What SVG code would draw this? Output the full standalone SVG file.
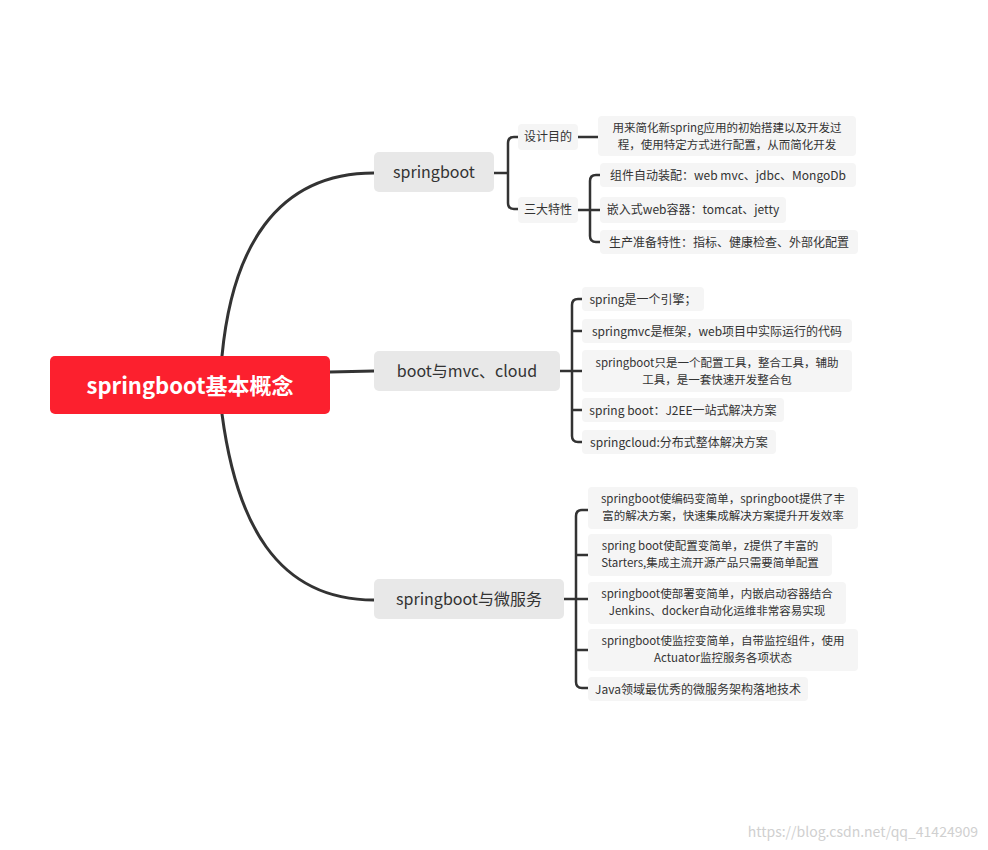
<svg xmlns="http://www.w3.org/2000/svg" width="988" height="850" viewBox="0 0 988 850">
<style>
text{font-family:"Noto Sans CJK SC","Noto Sans",sans-serif;fill:#333;text-anchor:middle}
.m rect{fill:#e8e8e8}
.m text{font-size:16px}
.l rect{fill:#f5f5f5}
.l text{font-size:12px}
.l text.s{font-size:11.5px}
.c path{fill:none;stroke:#333;stroke-width:3;stroke-linecap:round}
.c path.t{stroke-width:2.5}
</style>
<rect width="988" height="850" fill="#fff"/>
<g class="c">
<path d="M222,356 C232,250 275,173 374,173"/>
<path d="M330,372 L374,371"/>
<path d="M222,414 C236,520 275,600 374,600"/>
<path class="t" d="M494,173 H508 M518,137 H514 Q508,137 508,143 V203 Q508,209 514,209 H518"/>
<path class="t" d="M578,137 H598"/>
<path class="t" d="M578,210 H600 M600,175 H596 Q590,175 590,181 V236 Q590,242 596,242 H600"/>
<path class="t" d="M560,371 H582 M582,299 H578 Q572,299 572,305 V436 Q572,442 578,442 H582 M572,331 H582 M572,410 H582"/>
<path class="t" d="M564,599 H588 M588,510 H582 Q576,510 576,516 V682 Q576,688 582,688 H588 M576,555 H588 M576,650 H588"/>
</g>
<g id="root"><rect x="50" y="356" width="280" height="58" rx="5" fill="#fc202e"/><text x="190" y="394" style="font-size:22px;font-weight:bold;fill:#fff">springboot基本概念</text></g>
<g id="n1" class="m"><rect x="374" y="152" width="120" height="40" rx="5"/><text x="434" y="178">springboot</text></g>
<g id="n2" class="m"><rect x="374" y="351" width="186" height="40" rx="5"/><text x="467" y="377">boot与mvc、cloud</text></g>
<g id="n3" class="m"><rect x="374" y="579" width="190" height="40" rx="5"/><text x="469" y="605">springboot与微服务</text></g>
<g id="a1" class="l"><rect x="518" y="124" width="60" height="26" rx="4"/><text x="548" y="141">设计目的</text></g>
<g id="a2" class="l"><rect x="518" y="197" width="60" height="26" rx="4"/><text x="548" y="214">三大特性</text></g>
<g id="a1a" class="l"><rect x="598" y="116" width="258" height="40" rx="4"/><text class="s" x="727" y="132">用来简化新spring应用的初始搭建以及开发过</text><text class="s" x="727" y="149">程，使用特定方式进行配置，从而简化开发</text></g>
<g id="a2a" class="l"><rect x="600" y="163" width="256" height="24" rx="4"/><text x="728" y="180">组件自动装配：web mvc、jdbc、MongoDb</text></g>
<g id="a2b" class="l"><rect x="600" y="197" width="186" height="26" rx="4"/><text x="693" y="214">嵌入式web容器：tomcat、jetty</text></g>
<g id="a2c" class="l"><rect x="600" y="230" width="258" height="24" rx="4"/><text x="729" y="247">生产准备特性：指标、健康检查、外部化配置</text></g>
<g id="b1" class="l"><rect x="582" y="287" width="122" height="24" rx="4"/><text x="643" y="304">spring是一个引擎；</text></g>
<g id="b2" class="l"><rect x="582" y="319" width="270" height="24" rx="4"/><text x="717" y="336">springmvc是框架，web项目中实际运行的代码</text></g>
<g id="b3" class="l"><rect x="582" y="350" width="270" height="42" rx="4"/><text class="s" x="717" y="367">springboot只是一个配置工具，整合工具，辅助</text><text class="s" x="717" y="384">工具，是一套快速开发整合包</text></g>
<g id="b4" class="l"><rect x="582" y="398" width="202" height="24" rx="4"/><text x="683" y="415">spring boot：J2EE一站式解决方案</text></g>
<g id="b5" class="l"><rect x="582" y="430" width="194" height="24" rx="4"/><text x="679" y="447">springcloud:分布式整体解决方案</text></g>
<g id="c1" class="l"><rect x="588" y="487" width="270" height="42" rx="4"/><text class="s" x="723" y="503">springboot使编码变简单，springboot提供了丰</text><text class="s" x="723" y="520">富的解决方案，快速集成解决方案提升开发效率</text></g>
<g id="c2" class="l"><rect x="588" y="534" width="244" height="42" rx="4"/><text class="s" x="710" y="550">spring boot使配置变简单，z提供了丰富的</text><text class="s" x="710" y="567">Starters,集成主流开源产品只需要简单配置</text></g>
<g id="c3" class="l"><rect x="588" y="582" width="258" height="42" rx="4"/><text class="s" x="717" y="598">springboot使部署变简单，内嵌启动容器结合</text><text class="s" x="717" y="615">Jenkins、docker自动化运维非常容易实现</text></g>
<g id="c4" class="l"><rect x="588" y="629" width="270" height="42" rx="4"/><text class="s" x="723" y="645">springboot使监控变简单，自带监控组件，使用</text><text class="s" x="723" y="662">Actuator监控服务各项状态</text></g>
<g id="c5" class="l"><rect x="588" y="677" width="220" height="24" rx="4"/><text x="698" y="694">Java领域最优秀的微服务架构落地技术</text></g>
<text x="978" y="837" style="font-size:14px;fill:#d0d0d0;text-anchor:end">https://blog.csdn.net/qq_41424909</text>
</svg>
